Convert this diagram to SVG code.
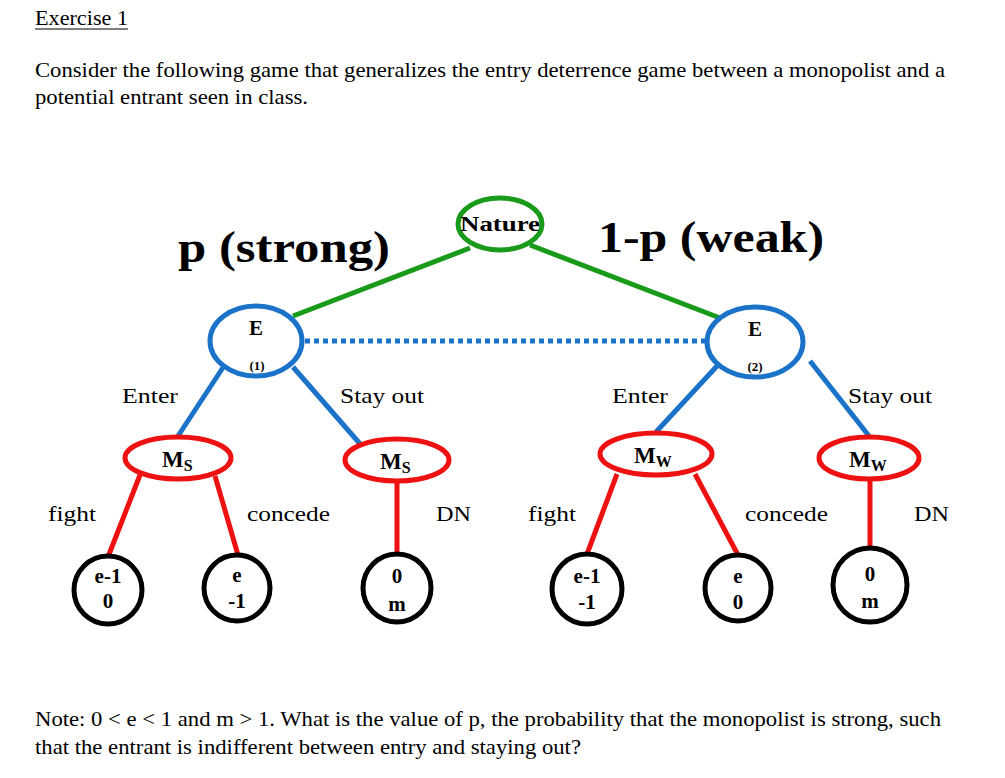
<svg xmlns="http://www.w3.org/2000/svg" width="1005" height="778" viewBox="0 0 1005 778">
<style>
text{font-family:"Liberation Serif","Times New Roman",serif;fill:#000}
.t{font-size:22px}
.lb text{font-size:22px}
.b{font-weight:bold}
.n{fill:#fff;stroke-width:5}
.g{stroke:#1a9a1a}.bl{stroke:#1a73c8}.r{stroke:#ee1111}.k{stroke:#000}
.c line{stroke-width:5}
</style>
<rect width="1005" height="778" fill="#fff"/>
<text class="t" x="35" y="25" textLength="93" lengthAdjust="spacingAndGlyphs">Exercise 1</text>
<line x1="35" y1="29" x2="128" y2="29" stroke="#000" stroke-width="1"/>
<text class="t" x="35" y="77" textLength="910" lengthAdjust="spacingAndGlyphs">Consider the following game that generalizes the entry deterrence game between a monopolist and a</text>
<text class="t" x="35" y="104" textLength="273" lengthAdjust="spacingAndGlyphs">potential entrant seen in class.</text>
<text class="b" x="178" y="262" font-size="44" textLength="212" lengthAdjust="spacingAndGlyphs">p (strong)</text>
<text class="b" x="598" y="252" font-size="44" textLength="226" lengthAdjust="spacingAndGlyphs">1-p (weak)</text>
<g id="connectors" class="c">
<line class="g" x1="470" y1="248" x2="293" y2="316"/>
<line class="g" x1="530" y1="245" x2="720" y2="318"/>
<line class="bl" x1="305" y1="341" x2="705" y2="341" stroke-dasharray="5,4"/>
<line class="bl" x1="224" y1="366" x2="178" y2="436"/>
<line class="bl" x1="293" y1="367" x2="361" y2="445"/>
<line class="bl" x1="717" y1="366" x2="656" y2="432"/>
<line class="bl" x1="810" y1="361" x2="869" y2="436"/>
<line class="r" x1="140" y1="475" x2="108" y2="557"/>
<line class="r" x1="215" y1="476" x2="238" y2="555"/>
<line class="r" x1="397" y1="481" x2="397" y2="553"/>
<line class="r" x1="617" y1="474" x2="587" y2="554"/>
<line class="r" x1="695" y1="474" x2="738" y2="555"/>
<line class="r" x1="870" y1="480" x2="870" y2="546"/>
</g>
<g class="lb">
<text x="122" y="403" textLength="56" lengthAdjust="spacingAndGlyphs">Enter</text>
<text x="340" y="403" textLength="84" lengthAdjust="spacingAndGlyphs">Stay out</text>
<text x="612" y="403" textLength="56" lengthAdjust="spacingAndGlyphs">Enter</text>
<text x="848" y="403" textLength="84" lengthAdjust="spacingAndGlyphs">Stay out</text>
<text x="48" y="521" textLength="48" lengthAdjust="spacingAndGlyphs">fight</text>
<text x="247" y="521" textLength="83" lengthAdjust="spacingAndGlyphs">concede</text>
<text x="436" y="521" textLength="35" lengthAdjust="spacingAndGlyphs">DN</text>
<text x="528" y="521" textLength="48" lengthAdjust="spacingAndGlyphs">fight</text>
<text x="745" y="521" textLength="83" lengthAdjust="spacingAndGlyphs">concede</text>
<text x="914" y="521" textLength="35" lengthAdjust="spacingAndGlyphs">DN</text>
</g>
<g id="nature"><ellipse class="n g" cx="500" cy="224" rx="42" ry="26"/><text class="b" x="500" y="231" font-size="20" text-anchor="middle" textLength="80" lengthAdjust="spacingAndGlyphs">Nature</text></g>
<g id="e1"><ellipse class="n bl" cx="256" cy="341" rx="46" ry="35"/><text class="b" x="256" y="335" font-size="21" text-anchor="middle">E</text><text class="b" x="257" y="370" font-size="13" text-anchor="middle">(1)</text></g>
<g id="e2"><ellipse class="n bl" cx="755" cy="342" rx="48" ry="35"/><text class="b" x="755" y="336" font-size="21" text-anchor="middle">E</text><text class="b" x="755" y="371" font-size="13" text-anchor="middle">(2)</text></g>
<g id="ms1"><ellipse class="n r" cx="178" cy="458" rx="53" ry="21"/><text class="b" x="162" y="467" font-size="23">M<tspan font-size="16" dy="4">S</tspan></text></g>
<g id="ms2"><ellipse class="n r" cx="397" cy="460" rx="52" ry="21"/><text class="b" x="380" y="469" font-size="23">M<tspan font-size="16" dy="4">S</tspan></text></g>
<g id="mw1"><ellipse class="n r" cx="656" cy="454" rx="56" ry="21"/><text class="b" x="634" y="463" font-size="23">M<tspan font-size="16" dy="4">W</tspan></text></g>
<g id="mw2"><ellipse class="n r" cx="869" cy="458" rx="50" ry="21"/><text class="b" x="849" y="467" font-size="23">M<tspan font-size="16" dy="4">W</tspan></text></g>
<g id="l1"><circle class="n k" cx="108" cy="590" r="34"/><text class="b" x="108" y="583" font-size="21" text-anchor="middle">e-1</text><text class="b" x="108" y="608" font-size="21" text-anchor="middle">0</text></g>
<g id="l2"><circle class="n k" cx="237" cy="588" r="33"/><text class="b" x="237" y="582" font-size="21" text-anchor="middle">e</text><text class="b" x="237" y="608" font-size="21" text-anchor="middle">-1</text></g>
<g id="l3"><circle class="n k" cx="397" cy="588" r="34"/><text class="b" x="397" y="583" font-size="21" text-anchor="middle">0</text><text class="b" x="397" y="611" font-size="21" text-anchor="middle">m</text></g>
<g id="l4"><circle class="n k" cx="587" cy="589" r="35"/><text class="b" x="587" y="583" font-size="21" text-anchor="middle">e-1</text><text class="b" x="587" y="609" font-size="21" text-anchor="middle">-1</text></g>
<g id="l5"><circle class="n k" cx="738" cy="588" r="33"/><text class="b" x="738" y="583" font-size="21" text-anchor="middle">e</text><text class="b" x="738" y="609" font-size="21" text-anchor="middle">0</text></g>
<g id="l6"><circle class="n k" cx="870" cy="585" r="37"/><text class="b" x="870" y="581" font-size="21" text-anchor="middle">0</text><text class="b" x="870" y="608" font-size="21" text-anchor="middle">m</text></g>
<text class="t" x="35" y="726" textLength="906" lengthAdjust="spacingAndGlyphs">Note: 0 &lt; e &lt; 1 and m &gt; 1. What is the value of p, the probability that the monopolist is strong, such</text>
<text class="t" x="35" y="754" textLength="546" lengthAdjust="spacingAndGlyphs">that the entrant is indifferent between entry and staying out?</text>
</svg>
